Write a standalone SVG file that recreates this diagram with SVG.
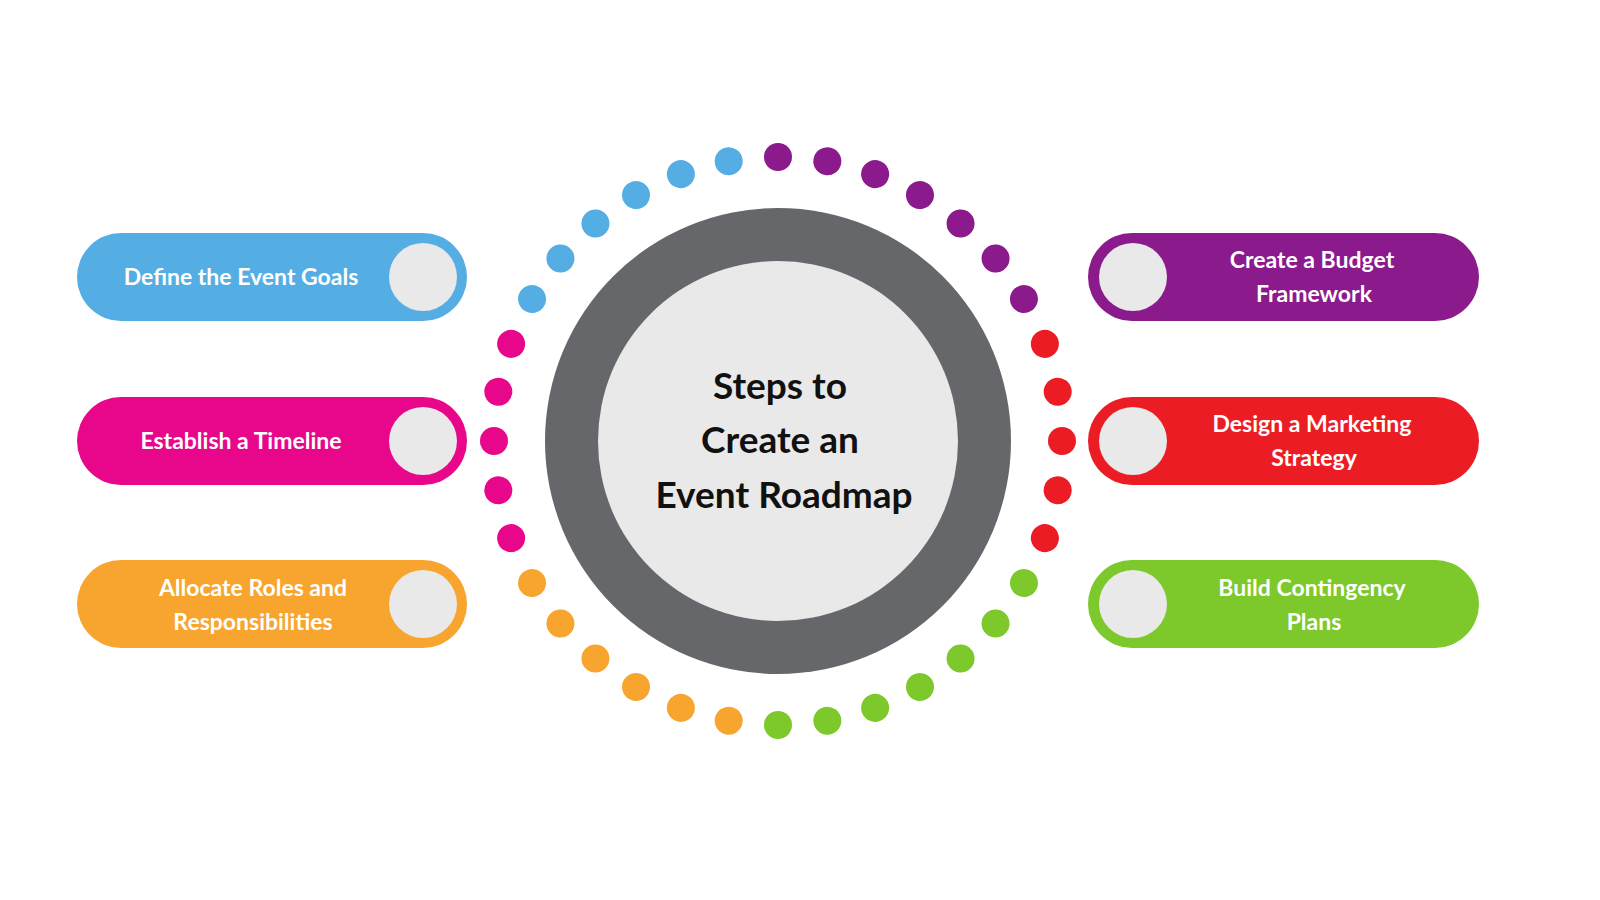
<svg xmlns="http://www.w3.org/2000/svg" width="1600" height="900" viewBox="0 0 1600 900">
<style>
.t{font-family:Lato,"Noto Sans",sans-serif;font-weight:bold;font-size:23px;fill:#fff;text-anchor:middle}
.c{font-family:Lato,"Noto Sans",sans-serif;font-weight:bold;font-size:37px;fill:#111;text-anchor:middle}
.k{fill:#e8e9e8}
.b{fill:#55aee3}.p{fill:#e8078a}.o{fill:#f7a52e}.u{fill:#8b1a8c}.r{fill:#ec1c24}.g{fill:#7dc92c}
</style>
<defs><circle id="d" cx="778" cy="157" r="14"/></defs>
<rect width="1600" height="900" fill="#fff"/>
<g id="dots">
<g class="u"><use href="#d"/><use href="#d" transform="rotate(10 778 441)"/><use href="#d" transform="rotate(20 778 441)"/><use href="#d" transform="rotate(30 778 441)"/><use href="#d" transform="rotate(40 778 441)"/><use href="#d" transform="rotate(50 778 441)"/><use href="#d" transform="rotate(60 778 441)"/></g>
<g class="r"><use href="#d" transform="rotate(70 778 441)"/><use href="#d" transform="rotate(80 778 441)"/><use href="#d" transform="rotate(90 778 441)"/><use href="#d" transform="rotate(100 778 441)"/><use href="#d" transform="rotate(110 778 441)"/></g>
<g class="g"><use href="#d" transform="rotate(120 778 441)"/><use href="#d" transform="rotate(130 778 441)"/><use href="#d" transform="rotate(140 778 441)"/><use href="#d" transform="rotate(150 778 441)"/><use href="#d" transform="rotate(160 778 441)"/><use href="#d" transform="rotate(170 778 441)"/><use href="#d" transform="rotate(180 778 441)"/></g>
<g class="o"><use href="#d" transform="rotate(190 778 441)"/><use href="#d" transform="rotate(200 778 441)"/><use href="#d" transform="rotate(210 778 441)"/><use href="#d" transform="rotate(220 778 441)"/><use href="#d" transform="rotate(230 778 441)"/><use href="#d" transform="rotate(240 778 441)"/></g>
<g class="p"><use href="#d" transform="rotate(250 778 441)"/><use href="#d" transform="rotate(260 778 441)"/><use href="#d" transform="rotate(270 778 441)"/><use href="#d" transform="rotate(280 778 441)"/><use href="#d" transform="rotate(290 778 441)"/></g>
<g class="b"><use href="#d" transform="rotate(300 778 441)"/><use href="#d" transform="rotate(310 778 441)"/><use href="#d" transform="rotate(320 778 441)"/><use href="#d" transform="rotate(330 778 441)"/><use href="#d" transform="rotate(340 778 441)"/><use href="#d" transform="rotate(350 778 441)"/></g>
</g>
<g id="center">
<circle cx="778" cy="441" r="233" fill="#65676b"/>
<circle cx="778" cy="441" r="180" class="k"/>
<text class="c" x="780" y="399">Steps to</text>
<text class="c" x="780" y="453">Create an</text>
<text class="c" x="784" y="508">Event Roadmap</text>
</g>
<g id="n1"><rect x="77" y="233" width="390" height="88" rx="44" class="b"/><circle cx="423" cy="277" r="34" class="k"/><text class="t" x="241" y="285">Define the Event Goals</text></g>
<g id="n2"><rect x="77" y="397" width="390" height="88" rx="44" class="p"/><circle cx="423" cy="441" r="34" class="k"/><text class="t" x="241" y="449">Establish a Timeline</text></g>
<g id="n3"><rect x="77" y="560" width="390" height="88" rx="44" class="o"/><circle cx="423" cy="604" r="34" class="k"/><text class="t" x="253" y="596">Allocate Roles and</text><text class="t" x="253" y="630">Responsibilities</text></g>
<g id="n4"><rect x="1088" y="233" width="391" height="88" rx="44" class="u"/><circle cx="1133" cy="277" r="34" class="k"/><text class="t" x="1312" y="268">Create a Budget</text><text class="t" x="1314" y="302">Framework</text></g>
<g id="n5"><rect x="1088" y="397" width="391" height="88" rx="44" class="r"/><circle cx="1133" cy="441" r="34" class="k"/><text class="t" x="1312" y="432">Design a Marketing</text><text class="t" x="1314" y="466">Strategy</text></g>
<g id="n6"><rect x="1088" y="560" width="391" height="88" rx="44" class="g"/><circle cx="1133" cy="604" r="34" class="k"/><text class="t" x="1312" y="596">Build Contingency</text><text class="t" x="1314" y="630">Plans</text></g>
</svg>
